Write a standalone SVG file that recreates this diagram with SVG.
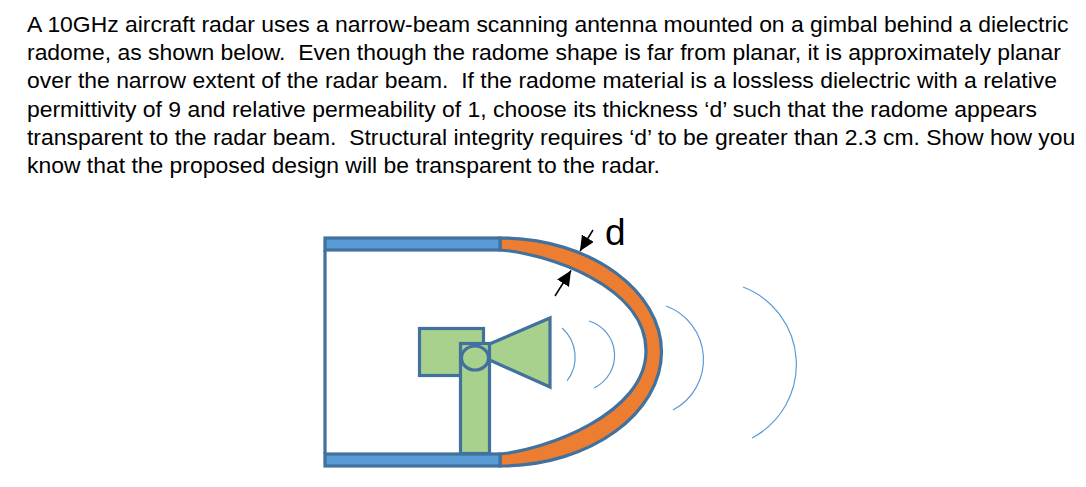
<svg xmlns="http://www.w3.org/2000/svg" width="1086" height="487" viewBox="0 0 1086 487">
<style>
text{font-family:"Liberation Sans",Arial,sans-serif;fill:#000}
.q{font-size:22.92px;white-space:pre}
.b{fill:#5b9bd5}
.s{stroke:#41719c;stroke-width:3.2}
.g{fill:#a9d18e}
.w{fill:none;stroke:#5b9bd5;stroke-width:1.2}
.a{stroke:#000;stroke-width:1.5;fill:none;marker-end:url(#ah)}
</style>
<defs><marker id="ah" viewBox="0 0 15 14" refX="15" refY="7" markerWidth="15" markerHeight="14" markerUnits="userSpaceOnUse" orient="auto"><path d="M0 0L15 7L0 14Z" fill="#000"/></marker></defs>
<rect width="1086" height="487" fill="#fff"/>
<g id="question">
<text class="q" x="27" y="31.500">A 10GHz aircraft radar uses a narrow-beam scanning antenna mounted on a gimbal behind a dielectric</text>
<text class="q" x="27" y="60">radome, as shown below.  Even though the radome shape is far from planar, it is approximately planar</text>
<text class="q" x="27" y="88">over the narrow extent of the radar beam.  If the radome material is a lossless dielectric with a relative</text>
<text class="q" x="27" y="116.500">permittivity of 9 and relative permeability of 1, choose its thickness ‘d’ such that the radome appears</text>
<text class="q" x="27" y="144.500">transparent to the radar beam.  Structural integrity requires ‘d’ to be greater than 2.3 cm. Show how you</text>
<text class="q" x="27" y="172.500">know that the proposed design will be transparent to the radar.</text>
</g>
<g id="radome">
<path d="M500 238C592 238 661.500 292 661.500 352C661.500 412 592 466 500 466L500 454C545 450 646 414 646 351C646 285 545 253 500 250Z" fill="#ed7d31" class="s"/>
</g>
<g id="fuselage">
<path d="M325 250V454" fill="none" class="s"/>
<rect class="b s" x="325" y="238" width="175" height="12"/>
<rect class="b s" x="325" y="454" width="175" height="12"/>
</g>
<g id="gimbal">
<rect class="g s" x="419.500" y="328.500" width="64" height="47"/>
<rect class="g s" x="460.500" y="343.500" width="29" height="110"/>
<ellipse class="g s" cx="475" cy="358" rx="13.500" ry="12"/>
</g>
<g id="horn">
<path class="g s" d="M489.500 344L550 318V387L489.500 360Z"/>
</g>
<g id="waves">
<path class="w" d="M562 328A39 39 0 0 1 567 381"/>
<path class="w" d="M589 321A36 36 0 0 1 594 388"/>
<path class="w" d="M666 306A57 57 0 0 1 673 410"/>
<path class="w" d="M743 287A83 83 0 0 1 752 438"/>
</g>
<g id="connectors">
<path class="a" d="M593 230L580 251"/>
<path class="a" d="M555 296L571 270.500"/>
</g>
<text x="605" y="245" font-size="37">d</text>
</svg>
